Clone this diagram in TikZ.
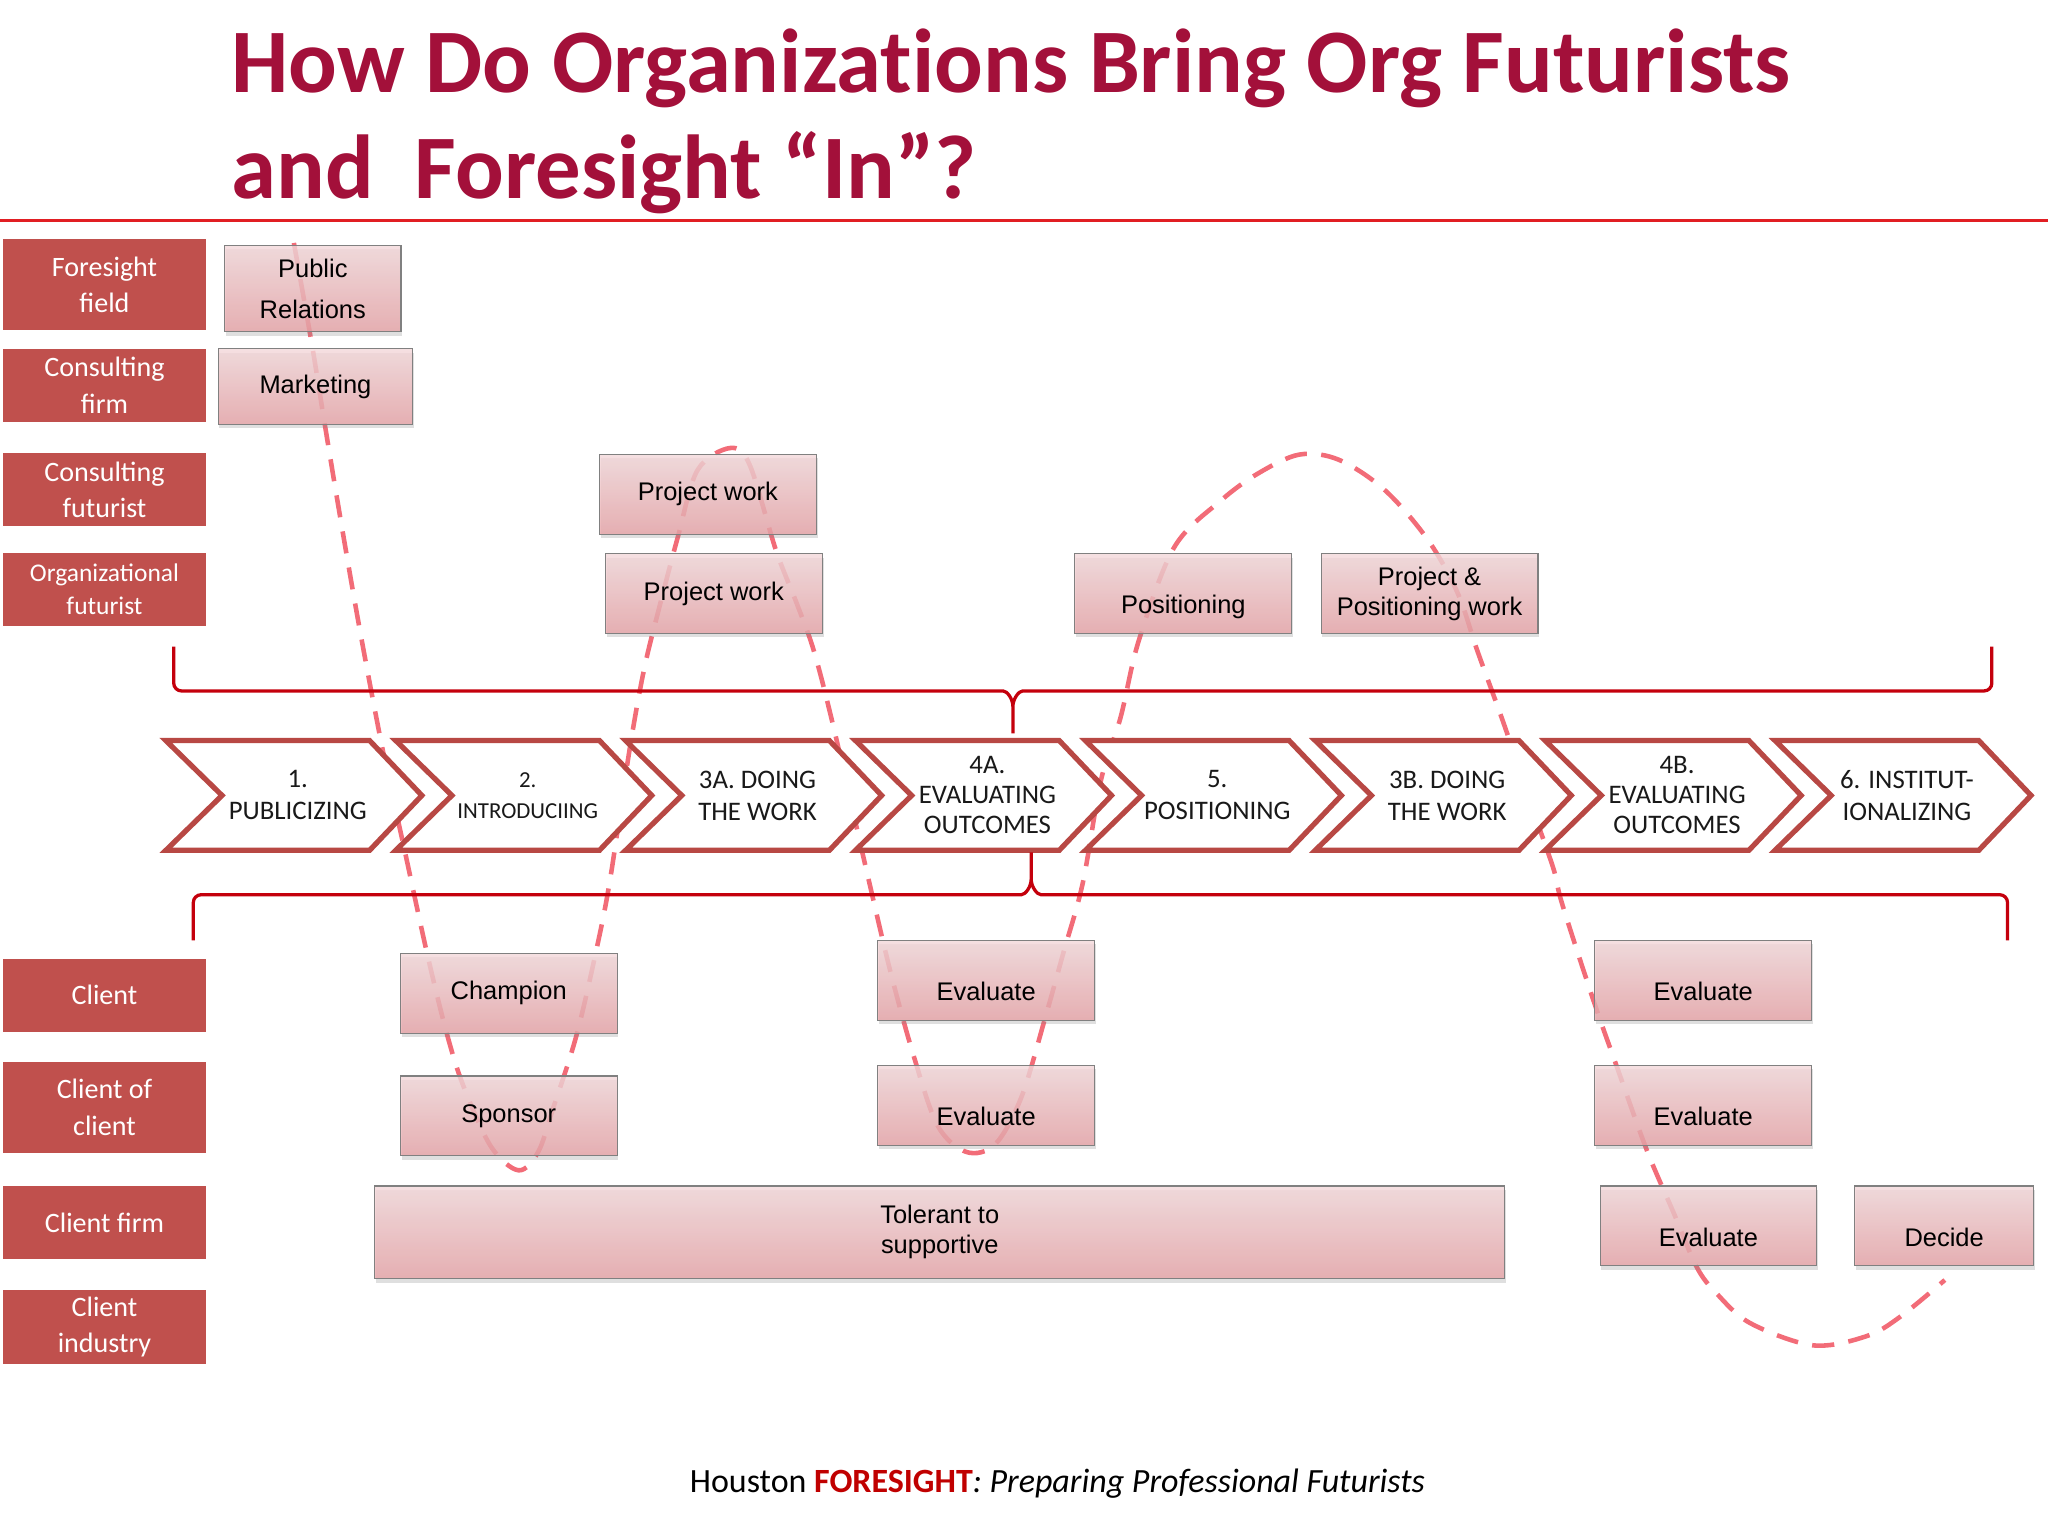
\documentclass[tikz,border=0pt]{standalone}
\usepackage{fontspec}
\setmainfont{Carlito}
\newfontfamily\arialfont{Liberation Sans}
\usetikzlibrary{positioning, shadows}

\definecolor{titlered}{RGB}{163,16,58}
\definecolor{rulered}{RGB}{225,30,35}
\definecolor{labelred}{RGB}{192,80,77}
\definecolor{chevred}{RGB}{184,72,68}
\definecolor{bracered}{RGB}{196,0,12}
\definecolor{wavepink}{RGB}{242,108,120}
\definecolor{pinktop}{RGB}{243,216,218}
\definecolor{pinkbot}{RGB}{232,163,167}
\definecolor{footred}{RGB}{192,0,0}

\begin{document}
\begin{tikzpicture}[x=1pt, y=-1pt,
    titletext/.style={anchor=base west, inner sep=0pt, text=titlered, font=\bfseries\addfontfeatures{Ligatures=NoCommon}\fontsize{69.5}{80}\selectfont},
    rowlabel/.style={rectangle, fill=labelred, text=white, minimum width=156pt, minimum height=56pt, inner sep=0pt, align=center, font=\fontsize{21.5}{28}\selectfont},
    task/.style={rectangle, draw=black!50, line width=0.8pt, top color=pinktop, bottom color=pinkbot, fill opacity=0.8, text opacity=1,
        drop shadow={opacity=0.25, shadow xshift=1pt, shadow yshift=-3pt},
        minimum width=166pt, minimum height=61pt, inner sep=0pt, align=center, font=\arialfont\fontsize{19.5}{23}\selectfont},
    lowtext/.style={text height=31pt, text depth=0pt},
    chevron/.style={draw=chevred, line width=4pt, fill=white, line join=miter},
    steptext/.style={align=center, text=black!90, font=\fontsize{20.5}{24.5}\selectfont},
    steptextsmall/.style={align=center, text=black!90, font=\fontsize{17.5}{24}\selectfont},
    steptextthree/.style={align=center, text=black!90, font=\fontsize{20.5}{23}\selectfont},
    brace/.style={draw=bracered, line width=2.5pt, rounded corners=6pt},
    wave/.style={draw=wavepink, line width=3.5pt, dash pattern=on 17pt off 11pt}]

\useasboundingbox (0,0) rectangle (1568,1176);

% Title
\node[titletext] (title1) at (177,71) {How Do Organizations Bring Org Futurists};
\node[titletext] (title2) at (177,152) {and\ \ Foresight “In”?};
\draw[rulered, line width=2pt] (0,169) -- (1568,169);

% Row labels
\node[rowlabel, minimum height=70pt] (ffield) at (80,218) {Foresight\\field};
\node[rowlabel] (cfirm) at (80,295) {Consulting\\firm};
\node[rowlabel] (cfut) at (80,375) {Consulting\\futurist};
\node[rowlabel, font=\fontsize{19.5}{25}\selectfont] (ofut) at (80,451) {Organizational\\futurist};
\node[rowlabel] (client) at (80,762) {Client};
\node[rowlabel, minimum height=70pt] (clcl) at (80,848) {Client of\\client};
\node[rowlabel] (clfirm) at (80,936) {Client firm};
\node[rowlabel] (clind) at (80,1016) {Client\\industry};

% Wave
\draw[wave] plot[smooth, tension=0.55] coordinates {(225,186) (239,265) (249,327) (262,405) (276,485) (293,574)
    (310,652) (327,730) (342,791) (355,832) (376,878) (397,896) (412,882) (423,850) (441,794) (456,730) (467,674)
    (482,574) (493,513) (504,468) (519,411) (534,360) (559,343) (574,356) (594,421) (610,462) (623,498) (638,556)
    (664,669) (682,745) (700,810) (718,862) (740,882) (762,876) (782,840) (800,780) (814,730) (829,676) (843,597)
    (858,549) (872,490) (899,419) (935,383) (964,362) (995,348) (1025,352) (1060,375) (1093,413) (1116,454)
    (1131,498) (1152,556) (1170,610) (1189,664) (1196,692) (1220,766) (1238,817) (1261,881) (1282,930) (1299,970)
    (1314,990) (1340,1013) (1388,1030) (1429,1023) (1455,1008) (1489,980)};

% Stages
\foreach \i in {0,...,7}
    \draw[chevron] ({127+176*\i},567) -- ++(156,0) -- ++(40,42) -- ++(-40,42) -- ++(-156,0) -- ++(43,-42) -- cycle;
\foreach \i/\sty/\txt in {0/steptext/{1.\\PUBLICIZING}, 1/steptextsmall/{2.\\INTRODUCIING},
    2/steptext/{3A. DOING\\THE WORK}, 3/steptextthree/{4A.\\EVALUATING\\OUTCOMES},
    4/steptext/{5.\\POSITIONING}, 5/steptext/{3B. DOING\\THE WORK},
    6/steptextthree/{4B.\\EVALUATING\\OUTCOMES}, 7/steptext/{6. INSTITUT-\\IONALIZING}}
    \node[\sty] (stage\i) at ({228+176*\i},609) {\txt};

% Braces
\draw[brace] (133,495) -- (133,529) -- (762,529) .. controls (771,529) and (775.5,535) .. (775.5,547) -- (775.5,565)
    -- (775.5,547) .. controls (775.5,535) and (780,529) .. (789,529) -- (1525,529) -- (1525,495);
\draw[brace] (148,720) -- (148,685) -- (776,685) .. controls (785,685) and (789.5,679) .. (789.5,667) -- (789.5,649)
    -- (789.5,667) .. controls (789.5,679) and (794,685) .. (803,685) -- (1537,685) -- (1537,720);

% Tasks
\node[task, minimum width=135pt, minimum height=66pt, font=\arialfont\fontsize{19.5}{31}\selectfont] (pr) at (239.5,221) {Public\\Relations};
\node[task, minimum width=149pt, minimum height=58pt] (mkt) at (241.5,296) {Marketing};
\node[task] (pw1) at (542,378.5) {Project work};
\node[task] (pw2) at (546.5,454.5) {Project work};
\node[task, lowtext] (pos) at (906,454.5) {Positioning};
\node[task] (ppw) at (1094.5,454.5) {Project \&\\Positioning work};
\node[task] (champ) at (389.5,760.5) {Champion};
\node[task, below=32pt of champ] (spon) {Sponsor};
\node[task, lowtext] (eva1) at (755,750.5) {Evaluate};
\node[task, lowtext, below=34pt of eva1] (eva2) {Evaluate};
\node[task, minimum width=865pt, minimum height=71pt] (tol) at (719.5,943.5) {Tolerant to\\supportive};
\node[task, lowtext] (evb1) at (1304,750.5) {Evaluate};
\node[task, lowtext, below=34pt of evb1] (evb2) {Evaluate};
\node[task, lowtext] (evb3) at (1308,938.5) {Evaluate};
\node[task, lowtext, minimum width=137pt] (dec) at (1488.5,938.5) {Decide};

% Footer
\node[anchor=base west, inner sep=0pt, font=\fontsize{26}{30}\selectfont] (footer) at (528,1143)
    {Houston \textbf{\color{footred}FORESIGHT}\textit{: Preparing Professional Futurists}};

\end{tikzpicture}
\end{document}
